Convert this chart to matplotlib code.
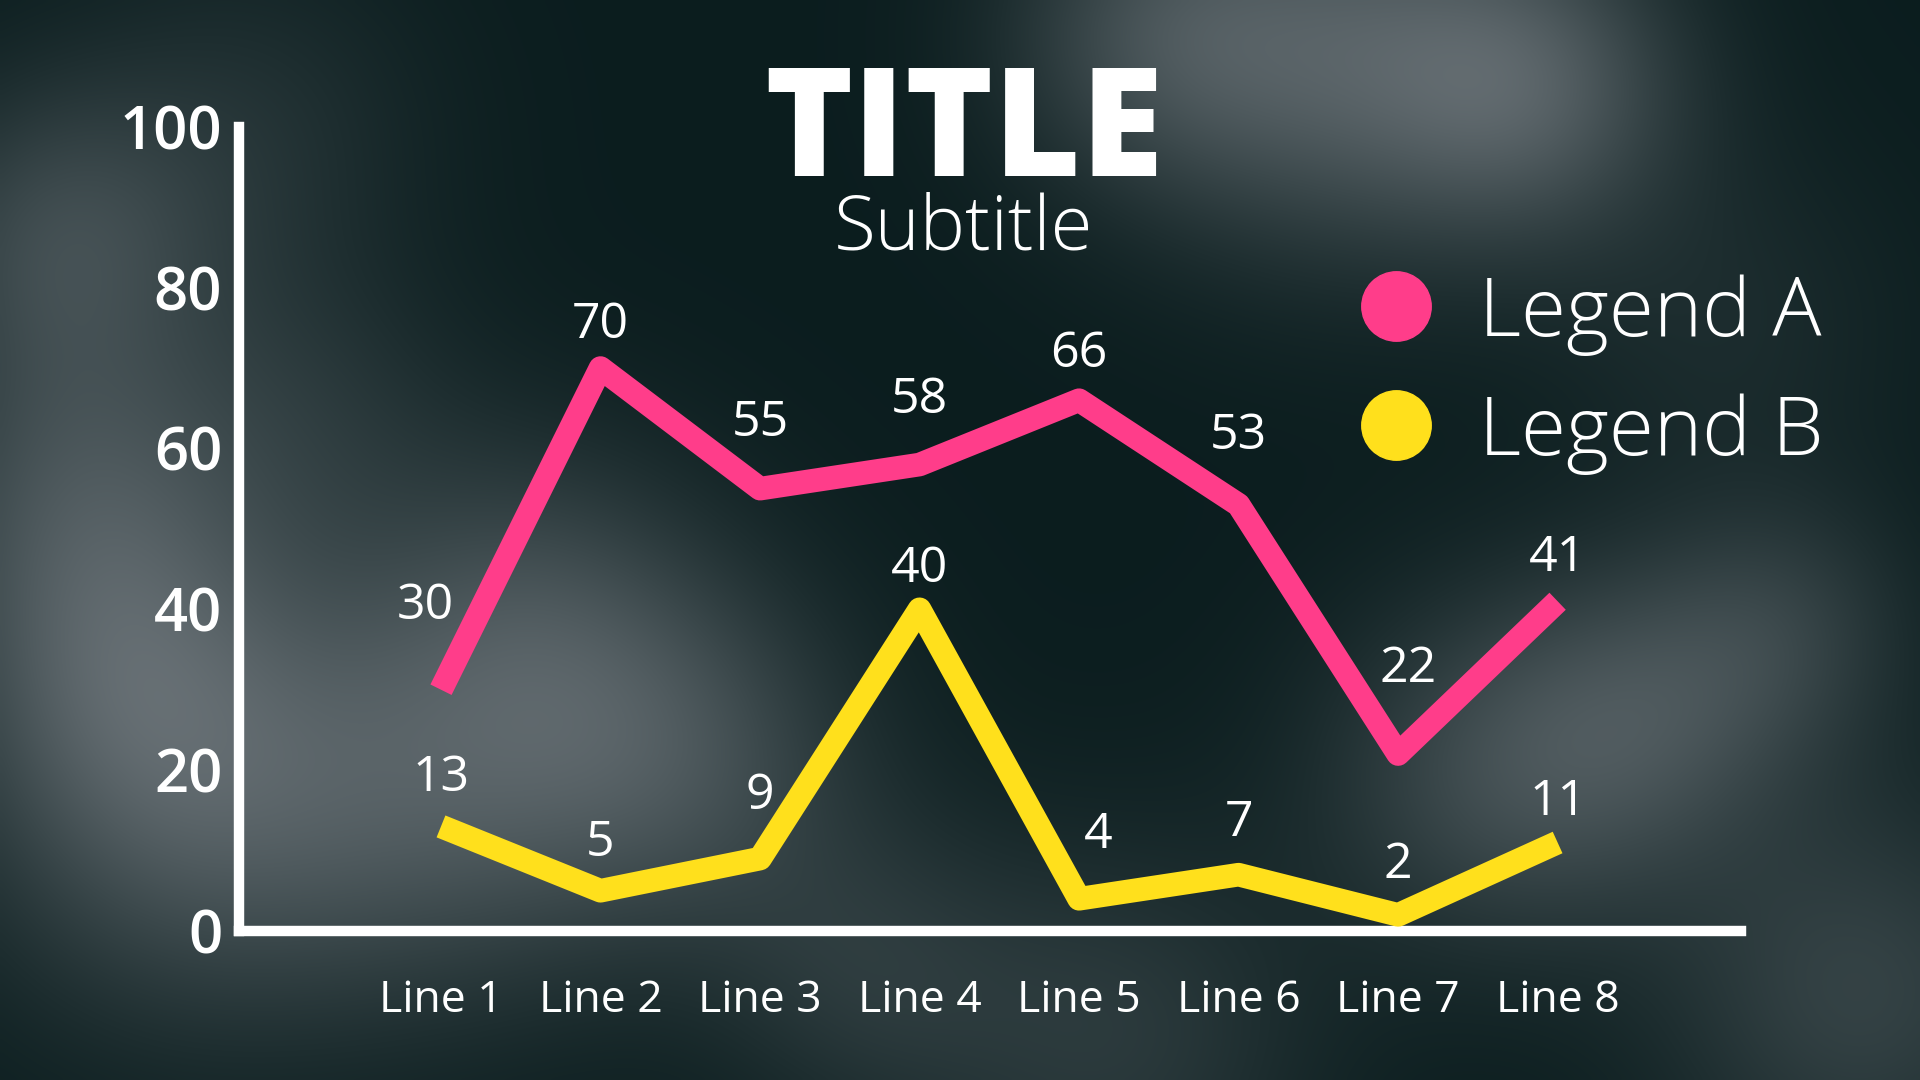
import matplotlib.pyplot as plt
import numpy as np

categories = ["Line 1", "Line 2", "Line 3", "Line 4", "Line 5", "Line 6", "Line 7", "Line 8"]
series_a = [30, 70, 55, 58, 66, 53, 22, 41]
series_b = [13, 5, 9, 40, 4, 7, 2, 11]
legend_names = ["Legend A", "Legend B"]
y_ticks = [0, 20, 40, 60, 80, 100]

# label offsets (points) so numbers sit where the reference has them
offs_a = [(-11, 62), (0, 33), (0, 49), (0, 48), (0, 35), (0, 51), (7, 63), (0, 33)]
offs_b = [(0, 37), (0, 36), (0, 47), (0, 31), (14, 48), (0, 39), (0, 38), (0, 31)]

pink = '#ff3d8a'
yellow = '#ffe01c'
font = 'Open Sans'

fig = plt.figure(figsize=(19.2, 10.8), dpi=100)

# blurred photo-like background (decoration only)
bg = fig.add_axes([0, 0, 1, 1], zorder=-10)
gx, gy = np.meshgrid(np.linspace(0, 1, 480), np.linspace(0, 1, 270))
blobs = [(0.60, 0.03, 0.07, 0.4), (0.70, 0.05, 0.09, 0.6), (0.80, 0.08, 0.07, 0.55),
         (0.03, 0.22, 0.07, 0.45), (0.04, 0.45, 0.08, 0.45), (0.06, 0.62, 0.08, 0.4),
         (0.10, 0.75, 0.10, 0.5), (0.24, 0.72, 0.10, 0.5), (0.36, 0.70, 0.08, 0.4),
         (0.28, 0.56, 0.08, 0.3), (0.16, 0.38, 0.07, 0.2), (0.13, 0.12, 0.08, 0.2),
         (0.78, 0.72, 0.08, 0.45), (0.86, 0.66, 0.07, 0.4), (0.93, 0.58, 0.06, 0.3),
         (0.97, 0.92, 0.09, 0.4), (0.58, 0.96, 0.09, 0.3), (0.45, 0.90, 0.07, 0.25),
         (0.90, 0.30, 0.08, 0.15)]
field = np.zeros_like(gx)
for cx, cy, r, a in blobs:
    s = r * 1.45
    field += a * np.exp(-(((gx - cx) * 16 / 9) ** 2 + (gy - cy) ** 2) / (2 * s ** 2))
field = np.clip(field, 0, 1)[..., None]
base = np.array([0.045, 0.115, 0.12])
light = np.array([0.44, 0.47, 0.49])
img = base + (light - base) * field
bg.imshow(img, extent=[0, 1, 0, 1], origin='upper', aspect='auto', interpolation='bicubic')
bg.set_axis_off()

ax = fig.add_axes([0.1245, 0.138, 0.7823, 0.7446])
ax.set_facecolor('none')
x = np.arange(len(categories))

ax.plot(x, series_a, color=pink, linewidth=17, solid_joinstyle='round', solid_capstyle='butt', zorder=3)
ax.plot(x, series_b, color=yellow, linewidth=17, solid_joinstyle='round', solid_capstyle='butt', zorder=3)

for vals, offs in [(series_a, offs_a), (series_b, offs_b)]:
    for xi, v, (dx, dy) in zip(x, vals, offs):
        ax.annotate(str(v), (xi, v), xytext=(dx, dy - 2), textcoords='offset points',
                    ha='center', va='center', color='white', fontsize=36, family=font)

ax.set_xlim(-1.266, 8.15)
ax.set_ylim(0, 100)
ax.set_xticks(x)
ax.set_xticklabels(categories, fontsize=32, color='white', family=font)
ax.set_yticks(y_ticks)
ax.set_yticklabels([str(t) for t in y_ticks], fontsize=43, color='white', family=font, fontweight='semibold')
ax.tick_params(axis='both', length=0)
ax.tick_params(axis='x', pad=34)
ax.tick_params(axis='y', pad=12)
for s in ['top', 'right']:
    ax.spines[s].set_visible(False)
for s in ['left', 'bottom']:
    ax.spines[s].set_color('white')
    ax.spines[s].set_linewidth(7.5)

# title and subtitle
fig.text(0.502, 1 - 137 / 1080, "TITLE", ha='center', va='center', color='white',
         fontsize=108, fontweight='heavy', family=font)
fig.text(0.502, 1 - 230 / 1080, "Subtitle", ha='center', va='center', color='white',
         fontsize=55, family=font, fontweight='light')

# legend
for i, (name, col) in enumerate(zip(legend_names, [pink, yellow])):
    cy = 306 + i * 119
    fig.add_artist(plt.Line2D([1396 / 1920], [1 - cy / 1080], marker='o', markersize=50,
                              color=col, linestyle='none'))
    fig.text(1479 / 1920, 1 - (cy + 30) / 1080, name, ha='left', va='baseline', color='white',
             fontsize=59, family=font, fontweight='light')

fig.savefig('out.png', dpi=100)
